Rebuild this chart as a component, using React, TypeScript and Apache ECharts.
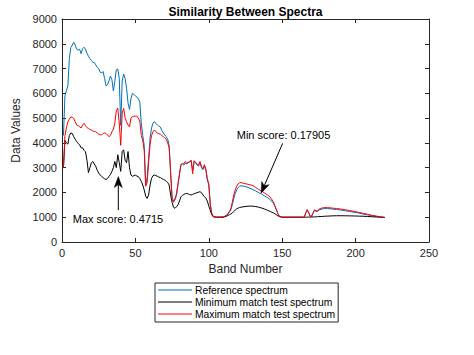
import React, { useEffect, useRef } from "react";
import * as echarts from "echarts";

const bands = [
  1, 2, 3, 4, 5, 6, 7, 8, 9, 10, 11, 12, 13, 14, 15, 16, 17, 18, 19, 20,
  21, 22, 23, 24, 25, 26, 27, 28, 29, 30, 31, 32, 33, 34, 35, 36, 37, 38, 39, 40,
  41, 42, 43, 44, 45, 46, 47, 48, 49, 50, 51, 52, 53, 54, 55, 56, 57, 58, 59, 60,
  61, 62, 63, 64, 65, 66, 67, 68, 69, 70, 71, 72, 73, 74, 75, 76, 77, 78, 79, 80,
  81, 82, 83, 84, 85, 86, 87, 88, 89, 90, 91, 92, 93, 94, 95, 96, 97, 98, 99, 100,
  101, 102, 103,
  105, 108, 110, 112,
  113, 114, 115, 116, 117, 118, 119, 120, 121, 122,
  124, 126, 128, 130, 132, 134, 136, 138, 140, 142, 144,
  145, 146, 147, 148,
  150, 155, 160, 165,
  166, 167, 168, 169, 170, 171, 172, 173, 174, 175,
  177, 179, 181,
  184, 187, 190, 193, 196, 199, 202, 205, 208, 211, 214, 217, 220,
];

const referenceSpectrum = [
  4300, 5900, 6100, 6300, 7400, 7850, 7950, 8060, 7950, 7780,
  7750, 7780, 7600, 7800, 7860, 7780, 7620, 7500, 7400, 7330,
  7250, 7240, 7150, 7050, 7000, 6850, 6820, 6880, 6600, 6300,
  6350, 6500, 6700, 6550, 6100, 6500, 6950, 6980, 6600, 4700,
  6500, 6780, 6600, 6200, 5600, 5350, 5800, 6000, 5950, 5900,
  5850, 5780, 5650, 4800, 4300, 3900, 2300, 2600, 3400, 4200,
  4600, 4800, 4860, 4780, 4720, 4680, 4640, 4500, 4400, 4320,
  4250, 4150, 3900, 2800, 1800, 1650, 1700, 1900, 2300, 2700,
  3100, 3150, 3100, 3180, 3150, 3200, 3220, 3280, 2900, 3250,
  3200, 3100, 3070, 3200, 3000, 2920, 3080, 2900, 2500, 2300,
  1500, 1150, 1030,
  1000, 1005, 1010, 1060,
  1120, 1200, 1300, 1500, 1750, 1950, 2100, 2200, 2250, 2270,
  2250, 2220, 2170, 2120, 2060, 1990, 1930, 1860, 1790, 1700, 1560,
  1430, 1300, 1150, 1040,
  1000, 1000, 1000, 1000,
  1150, 1280, 1180, 1040, 1030, 1150, 1270, 1240, 1230, 1290,
  1330, 1350, 1350,
  1330, 1310, 1290, 1260, 1230, 1200, 1170, 1130, 1095, 1065, 1035, 1010, 990,
];

const minMatchSpectrum = [
  3000, 4100, 4000, 3950, 4300, 4400, 4380, 4250, 4150, 4050,
  3980, 3920, 3800, 3800, 3700, 3640, 3300, 2800, 3000, 3200,
  3250, 3150, 3050, 2900, 2780, 2700, 2650, 2600, 2550, 2520,
  2560, 2650, 2720, 2850, 3000, 3250, 3000, 3520, 3200, 2850,
  3650, 3720, 3300, 3200, 3650, 3000, 2700, 2650, 2680, 2700,
  2660, 2640, 2560, 2450, 2300, 2100, 1850, 1760, 1900, 2300,
  2570, 2680, 2700, 2680, 2650, 2620, 2600, 2560, 2530, 2500,
  2450, 2400, 2300, 1900, 1600, 1400, 1360, 1420, 1500, 1650,
  1820, 1880, 1920, 1950, 1960, 1940, 1910, 1900, 1920, 1950,
  1970, 1990, 2010, 2030, 1990, 1900, 1830, 1770, 1650, 1450,
  1280, 1100, 1020,
  1000, 1000, 1000, 1040,
  1070, 1100, 1130, 1170, 1230, 1290, 1340, 1370, 1390, 1405,
  1425, 1440, 1450, 1445, 1430, 1405, 1370, 1330, 1280, 1230, 1170,
  1140, 1100, 1060, 1030,
  1000, 1000, 1000, 1000,
  1000, 1005, 1005, 1005, 1010, 1010, 1015, 1015, 1020, 1025,
  1030, 1040, 1045,
  1055, 1060, 1060, 1058, 1055, 1050, 1045, 1040, 1030, 1020, 1010, 1000, 990,
];

const maxMatchSpectrum = [
  3000, 4300, 4600, 4850, 4950, 5050, 5030, 4990, 4850, 4720,
  4700, 4650, 4600, 4720, 4790, 4700, 4620, 4580, 4540, 4520,
  4480, 4460, 4450, 4400, 4360, 4330, 4320, 4380, 4400, 4380,
  4320, 4250, 4300, 4450, 4550, 4800, 5300, 5400, 4800, 3900,
  5200, 5390, 5000, 4850, 4720, 4650, 5000, 5060, 5080, 5080,
  5080, 5000, 4880, 4300, 4100, 3700, 2250, 2400, 3200, 3950,
  4300, 4450, 4520, 4450, 4400, 4370, 4350, 4300, 4250, 4200,
  4150, 4000, 3800, 2800, 1700, 1600, 1750, 1950, 2350, 2750,
  3120, 3180, 3150, 3250, 3180, 3220, 3250, 3300, 2750, 3280,
  3220, 3150, 3100, 3250, 3050, 2950, 3120, 2950, 2550, 2350,
  1520, 1160, 1030,
  1000, 1005, 1010, 1080,
  1150, 1230, 1330, 1600, 1900, 2100, 2250, 2350, 2390, 2400,
  2360, 2340, 2310, 2280, 2200, 2120, 2060, 1980, 1900, 1800, 1620,
  1470, 1320, 1160, 1040,
  1000, 1000, 1000, 1000,
  1180, 1310, 1200, 1050, 1040, 1170, 1300, 1260, 1250, 1320,
  1370, 1390, 1385,
  1370, 1350, 1330, 1300, 1270, 1235, 1200, 1160, 1120, 1080, 1045, 1015, 990,
];

const seriesNames = ["Reference spectrum", "Minimum match test spectrum", "Maximum match test spectrum"];
const seriesColors = ["#0072BD", "#000000", "#FF0000"];

// annotation arrows in data units: [tailBand, tailValue, tipBand, tipValue]
const maxArrow = [38.35, 1290, 38.35, 2640];
const minArrow = [150.3, 3980, 135.6, 1970];
const maxLabel = "Max score: 0.4715";
const minLabel = "Min score: 0.17905";

const xTicks = { min: 0, max: 250, interval: 50 };
const yTicks = { min: 0, max: 9000, interval: 1000 };

const FONT = "'Liberation Sans', Arial, Helvetica, sans-serif";
const AX = "#262626";

export default function App() {
  const ref = useRef<HTMLDivElement>(null);
  useEffect(() => {
    if (!ref.current) return;
    const chart = echarts.init(ref.current, undefined, { renderer: "svg" });
    const toPairs = (vals: number[]) => bands.map((b, i) => [b, vals[i]]);
    const seriesVals = [referenceSpectrum, minMatchSpectrum, maxMatchSpectrum];
    const baseAxis = {
      axisLine: { show: true, onZero: false, lineStyle: { color: AX, width: 1 } },
      axisTick: { show: true, inside: true, length: 4, lineStyle: { color: AX } },
      splitLine: { show: false },
    };
    const option: any = {
      animation: false,
      textStyle: { fontFamily: FONT },
      grid: { left: 62, right: 45, top: 19, bottom: 113, containLabel: false },
      xAxis: [
        {
          type: "value",
          ...xTicks,
          ...baseAxis,
          name: "Band Number",
          nameLocation: "middle",
          nameGap: 19,
          nameTextStyle: { fontSize: 12, color: AX, fontFamily: FONT },
          axisLabel: { fontSize: 11, color: AX, margin: 5, fontFamily: FONT, formatter: (v: number) => String(v) },
        },
        {
          type: "value",
          position: "top",
          ...xTicks,
          ...baseAxis,
          axisLabel: { show: false },
        },
      ],
      yAxis: [
        {
          type: "value",
          ...yTicks,
          ...baseAxis,
          name: "Data Values",
          nameLocation: "middle",
          nameGap: 27,
          nameTextStyle: { fontSize: 12, color: AX, fontFamily: FONT },
          axisLabel: { fontSize: 11, color: AX, margin: 5, fontFamily: FONT, formatter: (v: number) => String(v) },
        },
        {
          type: "value",
          position: "right",
          ...yTicks,
          ...baseAxis,
          axisLabel: { show: false },
        },
      ],
      legend: {
        orient: "vertical",
        left: 155,
        top: 283,
        icon: "rect",
        itemWidth: 34,
        itemHeight: 1.2,
        itemGap: 0,
        padding: [1, 3, 2, 3],
        borderColor: AX,
        borderWidth: 1,
        backgroundColor: "#fff",
        textStyle: { fontSize: 10.3, color: "#000", fontFamily: FONT, lineHeight: 12, padding: [0, 0, 0, -2] },
        data: seriesNames,
      },
      series: seriesNames.map((name, i) => ({
        name,
        type: "line",
        xAxisIndex: 0,
        yAxisIndex: 0,
        data: toPairs(seriesVals[i]),
        symbol: "none",
        showSymbol: false,
        color: seriesColors[i],
        lineStyle: { color: seriesColors[i], width: 1 },
        z: 2 + i,
      })),
    };
    chart.setOption(option);

    const px = (b: number, v: number) =>
      chart.convertToPixel({ xAxisIndex: 0, yAxisIndex: 0 }, [b, v]) as number[];
    const arrow = (a: number[]) => {
      const t0 = px(a[0], a[1]);
      const t1 = px(a[2], a[3]);
      const dx = t1[0] - t0[0];
      const dy = t1[1] - t0[1];
      const len = Math.hypot(dx, dy);
      const ux = dx / len;
      const uy = dy / len;
      const nx = -uy;
      const ny = ux;
      const L = 11;
      const W = 4;
      const N = 8;
      const bx = t1[0] - ux * L;
      const by = t1[1] - uy * L;
      const cx = t1[0] - ux * N;
      const cy = t1[1] - uy * N;
      return [
        {
          type: "line",
          z: 20,
          shape: { x1: t0[0], y1: t0[1], x2: cx, y2: cy },
          style: { stroke: "#000", lineWidth: 1 },
        },
        {
          type: "polygon",
          z: 20,
          shape: {
            points: [
              [t1[0], t1[1]],
              [bx + nx * W, by + ny * W],
              [cx, cy],
              [bx - nx * W, by - ny * W],
            ],
          },
          style: { fill: "#000", stroke: "#000", lineWidth: 0.5 },
        },
      ];
    };

    chart.setOption({
      graphic: [
        {
          type: "text",
          x: 245.5,
          y: 12,
          style: {
            text: "Similarity Between Spectra",
            fontSize: 12,
            fontWeight: "bold",
            fontFamily: FONT,
            fill: "#000",
            textAlign: "center",
            textVerticalAlign: "middle",
          },
        },
        {
          type: "text",
          x: 118,
          y: 219,
          z: 10,
          style: {
            text: maxLabel,
            fontSize: 11,
            fontFamily: FONT,
            fill: "#000",
            textAlign: "center",
            textVerticalAlign: "middle",
          },
        },
        {
          type: "text",
          x: 283.5,
          y: 135,
          z: 10,
          style: {
            text: minLabel,
            fontSize: 11,
            fontFamily: FONT,
            fill: "#000",
            textAlign: "center",
            textVerticalAlign: "middle",
          },
        },
        ...arrow(maxArrow),
        ...arrow(minArrow),
      ],
    });
    return () => chart.dispose();
  }, []);
  return (
    <div
      ref={ref}
      style={{ position: "fixed", left: 0, top: 0, width: 474, height: 355, background: "#fff" }}
    />
  );
}
